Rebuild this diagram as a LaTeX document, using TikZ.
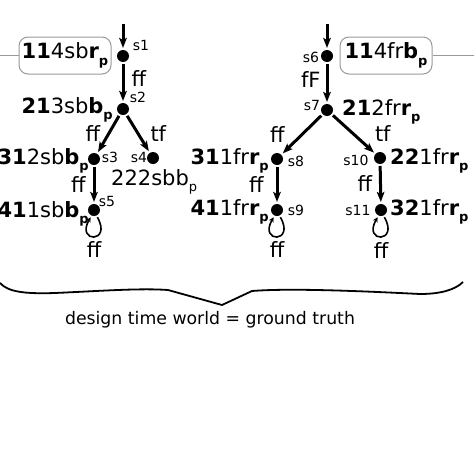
\documentclass[tikz,border=0pt]{standalone}
\usepackage{fontspec}
\setmainfont{DejaVu Sans}
\usetikzlibrary{arrows.meta,positioning}
\newcommand{\lo}[1]{\raisebox{-0.3em}{\fontsize{13}{13}\selectfont #1}}
\begin{document}
\begin{tikzpicture}[x=1pt, y=-1pt,
	state/.style={circle, fill=black, inner sep=0pt, minimum size=12pt, outer sep=2pt},
	trans/.style={line width=3pt, -{Stealth[length=10pt, width=7.5pt, inset=2pt]}},
	selfloop/.style={line width=1.6pt, -{Stealth[length=5pt, width=5pt]}},
	sname/.style={font=\fontsize{14}{14}\selectfont, inner sep=0pt},
	world/.style={font=\fontsize{21}{24}\selectfont, inner sep=0pt},
	elabel/.style={font=\fontsize{21}{24}\selectfont, inner sep=1pt},
	initbox/.style={world, draw=gray!80, line width=1pt, rounded corners=9pt, minimum width=92pt, minimum height=37pt}]
	\useasboundingbox (0,0) rectangle (474,474);
%			\draw[help lines] (0,0) grid (474,474);
	% left tree
	\node[state] (s1) at (123, 56) {};
	\node[state] (s2) at (123, 109) {};
	\node[state] (s3) at (94, 159) {};
	\node[state] (s4) at (153, 158) {};
	\node[state] (s5) at (94, 210) {};
	\node[sname] (n1) at (141, 45) {s1};
	\node[sname] (n2) at (138, 97) {s2};
	\node[sname] (n3) at (110, 157) {s3};
	\node[sname] (n4) at (139, 157) {s4};
	\node[sname] (n5) at (107, 201) {s5};
	\node[initbox] (b1) at (65, 55.5) {\textbf{11}4sb\textbf{r\lo{p}}};
	\node[world, anchor=base east] (w2) at (113, 113) {\textbf{21}3sb\textbf{b\lo{p}}};
	\node[world, anchor=base east] (w3) at (89, 164) {\textbf{31}2sb\textbf{b\lo{p}}};
	\node[world, anchor=base west] (w4) at (111, 185) {222sbb\lo{p}};
	\node[world, anchor=base east] (w5) at (89, 217) {\textbf{41}1sb\textbf{b\lo{p}}};
	\coordinate (in1) at (123, 24);
	\coordinate (lend) at (0, 55.5);
	\draw[gray!80, line width=1pt] (b1) -- (lend);
	\draw[trans] (in1) -- (s1);
	\draw[trans] (s1) -- node[elabel, right=6pt, pos=0.4] (e12) {ff} (s2);
	\draw[trans] (s2) -- node[elabel, left=6pt] (e23) {ff} (s3);
	\draw[trans] (s2) -- node[elabel, right=10pt] (e24) {tf} (s4);
	\draw[trans] (s3) -- node[elabel, left=6pt] (e35) {ff} (s5);
	\draw[selfloop] (s5.295) .. controls +(300:30pt) and +(240:30pt) .. (s5.245) node[elabel, pos=0.5, below=3pt] (e55) {ff};
	% right tree
	\node[state] (s6) at (327, 56) {};
	\node[state] (s7) at (327, 110) {};
	\node[state] (s8) at (277, 159) {};
	\node[state] (s9) at (277, 210) {};
	\node[state] (s10) at (380, 158) {};
	\node[state] (s11) at (381, 210) {};
	\node[sname] (n6) at (311, 57) {s6};
	\node[sname] (n7) at (312, 105) {s7};
	\node[sname] (n8) at (296, 161) {s8};
	\node[sname] (n9) at (296, 210) {s9};
	\node[sname] (n10) at (356, 160) {s10};
	\node[sname] (n11) at (358, 210) {s11};
	\node[initbox] (b2) at (386, 55.5) {\textbf{11}4fr\textbf{b\lo{p}}};
	\node[world, anchor=base west] (w7) at (342, 115) {\textbf{21}2fr\textbf{r\lo{p}}};
	\node[world, anchor=base east] (w8) at (269, 164) {\textbf{31}1fr\textbf{r\lo{p}}};
	\node[world, anchor=base east] (w9) at (269, 215) {\textbf{41}1fr\textbf{r\lo{p}}};
	\node[world, anchor=base west] (w10) at (390, 164) {\textbf{22}1fr\textbf{r\lo{p}}};
	\node[world, anchor=base west] (w11) at (390, 215) {\textbf{32}1fr\textbf{r\lo{p}}};
	\coordinate (in6) at (327, 24);
	\coordinate (rend) at (474, 55.5);
	\draw[gray!80, line width=1pt] (b2) -- (rend);
	\draw[trans] (in6) -- (s6);
	\draw[trans] (s6) -- node[elabel, left=4pt, pos=0.4] (e67) {fF} (s7);
	\draw[trans] (s7) -- node[elabel, left=15pt] (e78) {ff} (s8);
	\draw[trans] (s7) -- node[elabel, right=19pt] (e710) {tf} (s10);
	\draw[trans] (s8) -- node[elabel, left=11pt] (e89) {ff} (s9);
	\draw[trans] (s10) -- node[elabel, left=6pt] (e1011) {ff} (s11);
	\draw[selfloop] (s9.295) .. controls +(300:30pt) and +(240:30pt) .. (s9.245) node[elabel, pos=0.5, below=3pt] (e99) {ff};
	\draw[selfloop] (s11.295) .. controls +(300:30pt) and +(240:30pt) .. (s11.245) node[elabel, pos=0.5, below=4pt] (e1111) {ff};
	% brace
	\draw[line width=1.8pt] (0, 283) .. controls (8, 292) and (25, 294) .. (55, 293)
		.. controls (100, 291) and (140, 288) .. (168, 290) -- (222, 305) -- (252, 291)
		.. controls (290, 288) and (360, 291) .. (420, 294)
		.. controls (440, 294) and (455, 290) .. (463, 282);
	\node[font=\fontsize{17.3}{20}\selectfont] (truth) at (210, 320) {design time world = ground truth};
\end{tikzpicture}
\end{document}
